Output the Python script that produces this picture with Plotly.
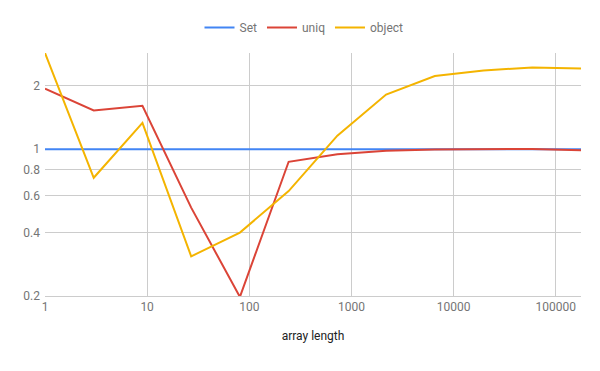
import plotly.graph_objects as go
import math

array_length = [1, 3, 9, 27, 81, 243, 729, 2187, 6561, 19683, 59049, 177147]
set_vals = [1, 1, 1, 1, 1, 1, 1, 1, 1, 1, 1, 1]
uniq_vals = [1.94, 1.53, 1.61, 0.527, 0.198, 0.871, 0.947, 0.983, 0.997, 0.997, 1.002, 0.989]
object_vals = [2.87, 0.731, 1.335, 0.309, 0.401, 0.632, 1.16, 1.82, 2.23, 2.37, 2.45, 2.42]

x_tickvals = [1, 10, 100, 1000, 10000, 100000]
x_ticktext = ["1", "10", "100", "1000", "10000", "100000"]
y_tickvals = [0.2, 0.4, 0.6, 0.8, 1, 2]
y_ticktext = ["0.2", "0.4", "0.6", "0.8", "1", "2"]

series = [("Set", set_vals, "#4285F4"),
          ("uniq", uniq_vals, "#DB4437"),
          ("object", object_vals, "#F4B400")]

fig = go.Figure()
for name, vals, color in series:
    fig.add_trace(go.Scatter(x=array_length, y=vals, name=name, mode="lines",
                             line=dict(color=color, width=2)))

# page body has an 8px default margin, so the figure is sized to fit inside it
fig.update_layout(
    width=592, height=363,
    margin=dict(l=37, r=19, t=45, b=75, autoexpand=False),
    paper_bgcolor="white", plot_bgcolor="white",
    font=dict(family="Roboto, Arial, sans-serif", size=12, color="#757575"),
    showlegend=True,
    legend=dict(orientation="h", x=0.5, xanchor="center", xref="container",
                y=0.986, yanchor="top", yref="container",
                font=dict(size=12, color="#757575"),
                itemwidth=30, traceorder="normal"),
    xaxis=dict(type="log", range=[0, math.log10(177147)], automargin=False,
               tickvals=x_tickvals, ticktext=x_ticktext,
               showgrid=True, gridcolor="#cccccc", gridwidth=1,
               zeroline=False, showline=True, linecolor="#cccccc",
               ticks="", ticklen=0,
               title=dict(text="array length", font=dict(size=12, color="#222222"),
                          standoff=18)),
    yaxis=dict(type="log", range=[math.log10(0.2), math.log10(2.87)], automargin=False,
               tickvals=y_tickvals, ticktext=y_ticktext,
               showgrid=True, gridcolor="#cccccc", gridwidth=1,
               zeroline=False, showline=False, ticks="", ticklabelstandoff=4),
)

fig.write_html("out.html")
